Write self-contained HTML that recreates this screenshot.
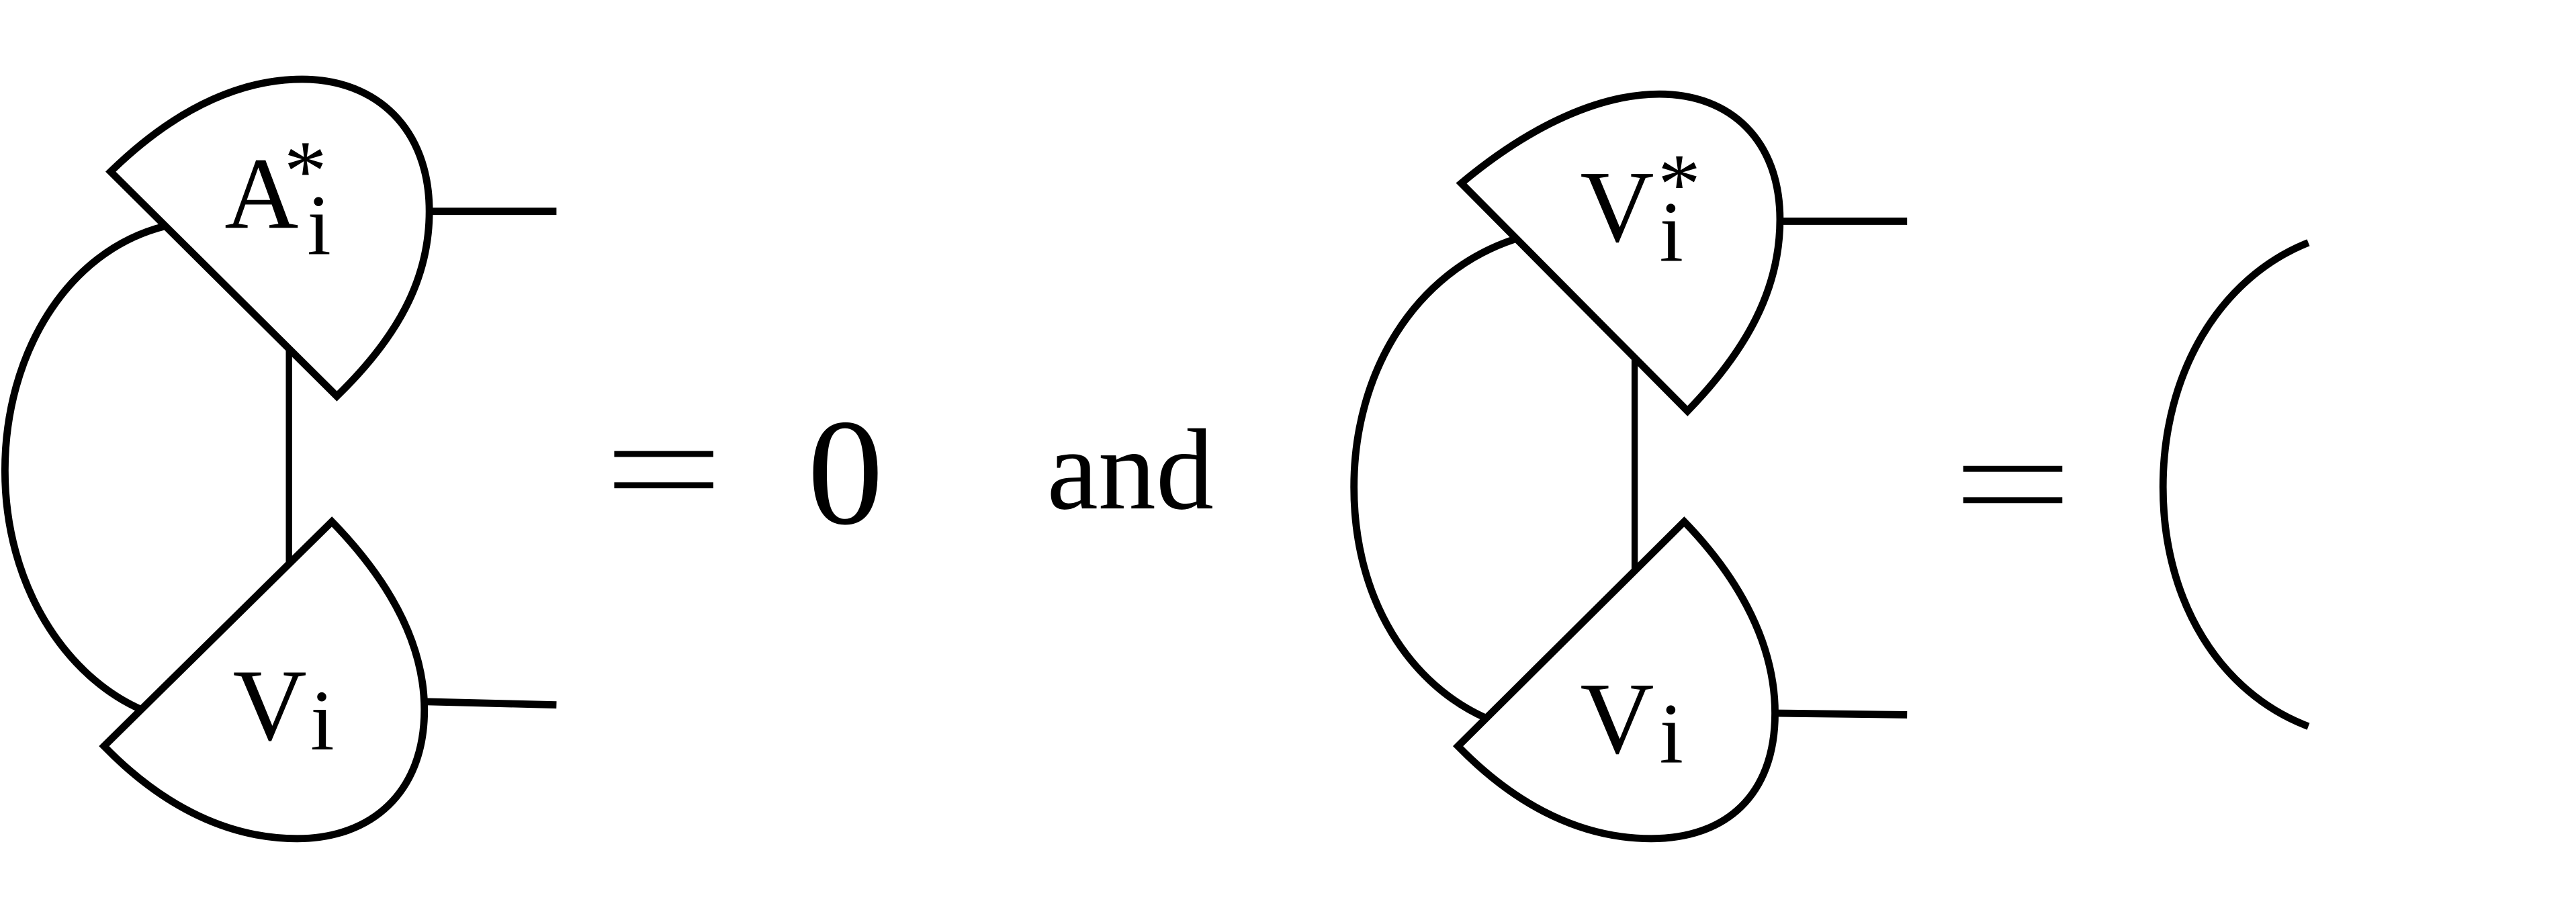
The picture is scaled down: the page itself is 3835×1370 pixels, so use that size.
<!DOCTYPE html>
<html><head><meta charset="utf-8"><style>
html,body{margin:0;padding:0;background:#fff;}
svg{display:block;}
text{font-family:"Liberation Serif",serif;fill:#000;}
</style></head><body>
<svg width="3835" height="1370" viewBox="0 0 1560.1 557.3" preserveAspectRatio="none" xmlns="http://www.w3.org/2000/svg">
<g fill="none" stroke="#000" stroke-width="4.4">
<!-- Left diagram -->
<path d="M100,137 C40,152 3,215 3,285 C3,355 40,410 86,430"/>
<line x1="175" y1="208" x2="175" y2="344" stroke-width="3.8"/>
<path d="M67,104 C110,62 150,48 183,48 C228,48 260,78 260,128 C260,170 240,205 204,240 Z" fill="#fff"/>
<path d="M63,452 L201,316 C236,352 257,390 257,430 C257,480 225,508 180,508 C140,508 100,490 63,452 Z" fill="#fff"/>
<line x1="260" y1="128" x2="337" y2="128"/>
<line x1="257" y1="425" x2="337" y2="427"/>
<line x1="372" y1="275" x2="432" y2="275" stroke-width="3.6"/>
<line x1="372" y1="294" x2="432" y2="294" stroke-width="3.6"/>
<!-- Right diagram -->
<path d="M917,145 C857,165 820,225 820,295 C820,365 855,415 900,435"/>
<line x1="990" y1="214" x2="990" y2="346" stroke-width="3.8"/>
<path d="M885,111 C928,75 970,57 1005,57 C1048,57 1078,85 1078,133 C1078,175 1058,212 1022,249 Z" fill="#fff"/>
<path d="M883,452 L1020,316 C1055,352 1075,392 1075,432 C1075,482 1045,508 1000,508 C960,508 920,490 883,452 Z" fill="#fff"/>
<line x1="1078" y1="134" x2="1155" y2="134"/>
<line x1="1075" y1="432" x2="1155" y2="433"/>
<line x1="1189" y1="284" x2="1249" y2="284" stroke-width="3.6"/>
<line x1="1189" y1="303" x2="1249" y2="303" stroke-width="3.6"/>
<path d="M1398,147 C1345,168 1310,225 1310,295 C1310,365 1345,420 1398,440"/>
</g>
<!-- labels -->
<text x="136" y="138" font-size="62">A</text>
<text x="172" y="121" font-size="52">*</text>
<text x="186" y="154" font-size="52">i</text>
<text x="141" y="448" font-size="62">V</text>
<text x="188" y="454" font-size="52">i</text>
<text x="957" y="146" font-size="62">V</text>
<text x="1004" y="129" font-size="52">*</text>
<text x="1005" y="158" font-size="52">i</text>
<text x="957" y="456" font-size="62">V</text>
<text x="1005" y="462" font-size="52">i</text>
<text x="489" y="317" font-size="92">0</text>
<text x="634" y="308" font-size="70">and</text>
</svg>
</body></html>
